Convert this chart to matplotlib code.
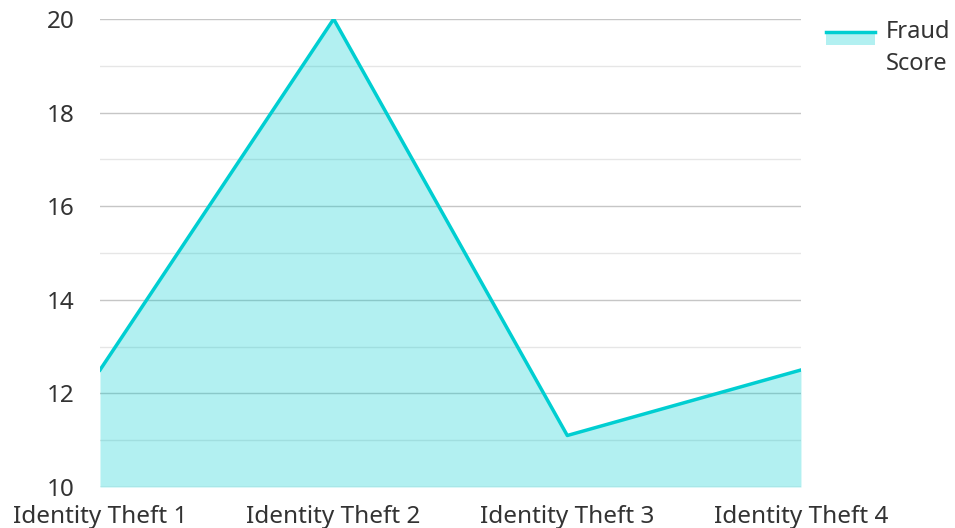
import matplotlib.pyplot as plt
from matplotlib.legend_handler import HandlerBase
from matplotlib.lines import Line2D
from matplotlib.patches import Rectangle
from matplotlib.ticker import MultipleLocator

categories = ["Identity Theft 1", "Identity Theft 2", "Identity Theft 3", "Identity Theft 4"]
fraud_score = [12.5, 20, 11.1, 12.5]

plt.rcParams["font.family"] = ["Noto Sans", "DejaVu Sans"]
line_color = "#00CED1"


class AreaHandler(HandlerBase):
    # filled box with the line along its top edge
    def create_artists(self, legend, orig_handle, xd, yd, w, h, fontsize, trans):
        top = yd + h * 1.55
        rect = Rectangle((xd, top - h * 0.8), w, h * 0.8, facecolor=line_color,
                         alpha=0.3, edgecolor="none", transform=trans)
        ln = Line2D([xd, xd + w], [top, top], color=line_color, linewidth=2.5,
                    transform=trans)
        return [rect, ln]


fig = plt.figure(figsize=(9.55, 5.28), dpi=100)
ax = fig.add_axes([0.1047, 0.0777, 0.734, 0.8863])

x = range(len(categories))
ax.fill_between(x, fraud_score, 10, color=line_color, alpha=0.3, linewidth=0, zorder=2)
area_line, = ax.plot(x, fraud_score, color=line_color, linewidth=2.5, zorder=3)

ax.set_xlim(0, len(categories) - 1)
ax.set_ylim(10, 20)
ax.yaxis.set_major_locator(MultipleLocator(2))
ax.yaxis.set_minor_locator(MultipleLocator(1))
ax.set_xticks(list(x))
ax.set_xticklabels(categories)
ax.set_axisbelow(True)
ax.grid(axis="y", which="major", color="#c6c6c6", linewidth=1)
ax.grid(axis="y", which="minor", color="#e6e6e6", linewidth=1)
for s in ax.spines.values():
    s.set_visible(False)
ax.tick_params(axis="both", which="both", length=0, labelsize=17.5, colors="#333333")
ax.tick_params(axis="y", pad=18)
ax.tick_params(axis="x", pad=13)

leg = fig.legend([area_line], ["Fraud\nScore"], handler_map={area_line: AreaHandler()},
                 loc="upper left", bbox_to_anchor=(0.857, 0.975), frameon=False,
                 fontsize=17, handlelength=2.1, handletextpad=0.45, labelcolor="#333333",
                 borderaxespad=0, borderpad=0.3)
leg.get_texts()[0].set_linespacing(1.45)

fig.savefig("out.png", dpi=100)
